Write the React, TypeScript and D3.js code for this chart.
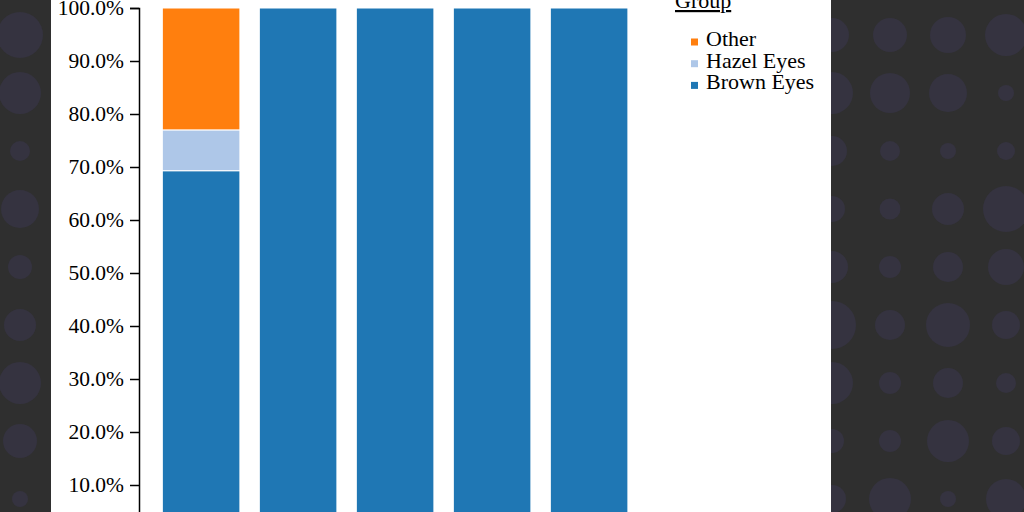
import React, { useEffect, useRef } from "react";
import * as d3 from "d3";

// ---- data ----
const categories = ["Group 1", "Group 2", "Group 3", "Group 4", "Group 5"];
const seriesKeys = ["Brown Eyes", "Hazel Eyes", "Other"];
const brownEyes = [0.693, 1.0, 1.0, 1.0, 1.0];
const hazelEyes = [0.077, 0, 0, 0, 0];
const other = [0.23, 0, 0, 0, 0];
const legendItems = ["Other", "Hazel Eyes", "Brown Eyes"];
const yTicks = [0.1, 0.2, 0.3, 0.4, 0.5, 0.6, 0.7, 0.8, 0.9, 1.0];

// decorative background dot radii (rows top to bottom)
const dotRows = [35, 93, 151, 209, 267, 325, 383, 441, 499];
const dotColumns = [20, 832, 890, 948, 1006];
const dotRadii = [
  [23, 21, 10, 19, 12, 16, 21, 17, 8],
  [17, 21, 15, 13, 16, 24, 21, 12, 14],
  [17, 20, 10, 10.5, 11, 15, 11, 11, 21],
  [18, 19, 8, 16, 15, 22, 15, 21, 8],
  [21, 8, 9, 23, 18, 14, 10, 14, 20],
];

const colors: Record<string, string> = {
  "Brown Eyes": "#1f77b4",
  "Hazel Eyes": "#aec7e8",
  Other: "#ff7f0e",
};

const W = 1024;
const H = 512;
const FONT = "'Liberation Serif', 'Times New Roman', serif";

export default function App() {
  const axisRef = useRef<SVGGElement>(null);

  const rows = categories.map((c, i) => ({
    cat: c,
    "Brown Eyes": brownEyes[i],
    "Hazel Eyes": hazelEyes[i],
    Other: other[i],
  }));
  const stacked = d3.stack<any>().keys(seriesKeys)(rows);

  const x = d3
    .scaleBand<string>()
    .domain(categories)
    .range([140, 140 + 97 * (4.8 + 0.46)])
    .paddingInner(0.2)
    .paddingOuter(0.23);
  const y = d3.scaleLinear().domain([0, 1]).range([538, 8]);

  useEffect(() => {
    if (!axisRef.current) return;
    const g = d3.select(axisRef.current);
    g.selectAll("*").remove();
    g.call(
      d3
        .axisLeft(y)
        .tickValues(yTicks)
        .tickFormat(d3.format(".1%"))
        .tickSize(9)
        .tickPadding(6)
    );
    g.selectAll("path, line").attr("stroke", "#000").attr("stroke-width", 1.5);
    g.selectAll("text")
      .attr("fill", "#000")
      .style("font-family", FONT)
      .style("font-size", "21.5px");
  }, []);

  return (
    <svg
      width={W}
      height={H}
      style={{ position: "absolute", left: 0, top: 0, display: "block" }}
    >
      <rect x={0} y={0} width={W} height={H} fill="#2f2f2f" />
      {dotColumns.map((cx, ci) =>
        dotRows.map((cy, ri) => (
          <circle
            key={`${ci}-${ri}`}
            cx={cx}
            cy={cy}
            r={dotRadii[ci][ri]}
            fill="#353340"
          />
        ))
      )}
      <rect x={51} y={0} width={780} height={H} fill="#ffffff" />

      <g>
        {stacked.map((layer) => (
          <g key={layer.key} fill={colors[layer.key]}>
            {layer.map((d, i) =>
              d[1] - d[0] > 0 ? (
                <rect
                  key={i}
                  x={x(categories[i])}
                  y={y(d[1])}
                  width={x.bandwidth()}
                  height={y(d[0]) - y(d[1])}
                  stroke="#ffffff"
                  strokeWidth={1}
                />
              ) : null
            )}
          </g>
        ))}
      </g>

      <g ref={axisRef} transform="translate(139,0)" />

      <g style={{ fontFamily: FONT, fontSize: "22px" }}>
        <text x={675} y={8} fill="#000" textDecoration="underline">
          Group
        </text>
        {legendItems.map((k, i) => (
          <g key={k} transform={`translate(0, ${i * 21.7})`}>
            <rect x={691} y={38.5} width={7} height={7} fill={colors[k]} />
            <text x={706} y={46} fill="#000">
              {k}
            </text>
          </g>
        ))}
      </g>
    </svg>
  );
}
